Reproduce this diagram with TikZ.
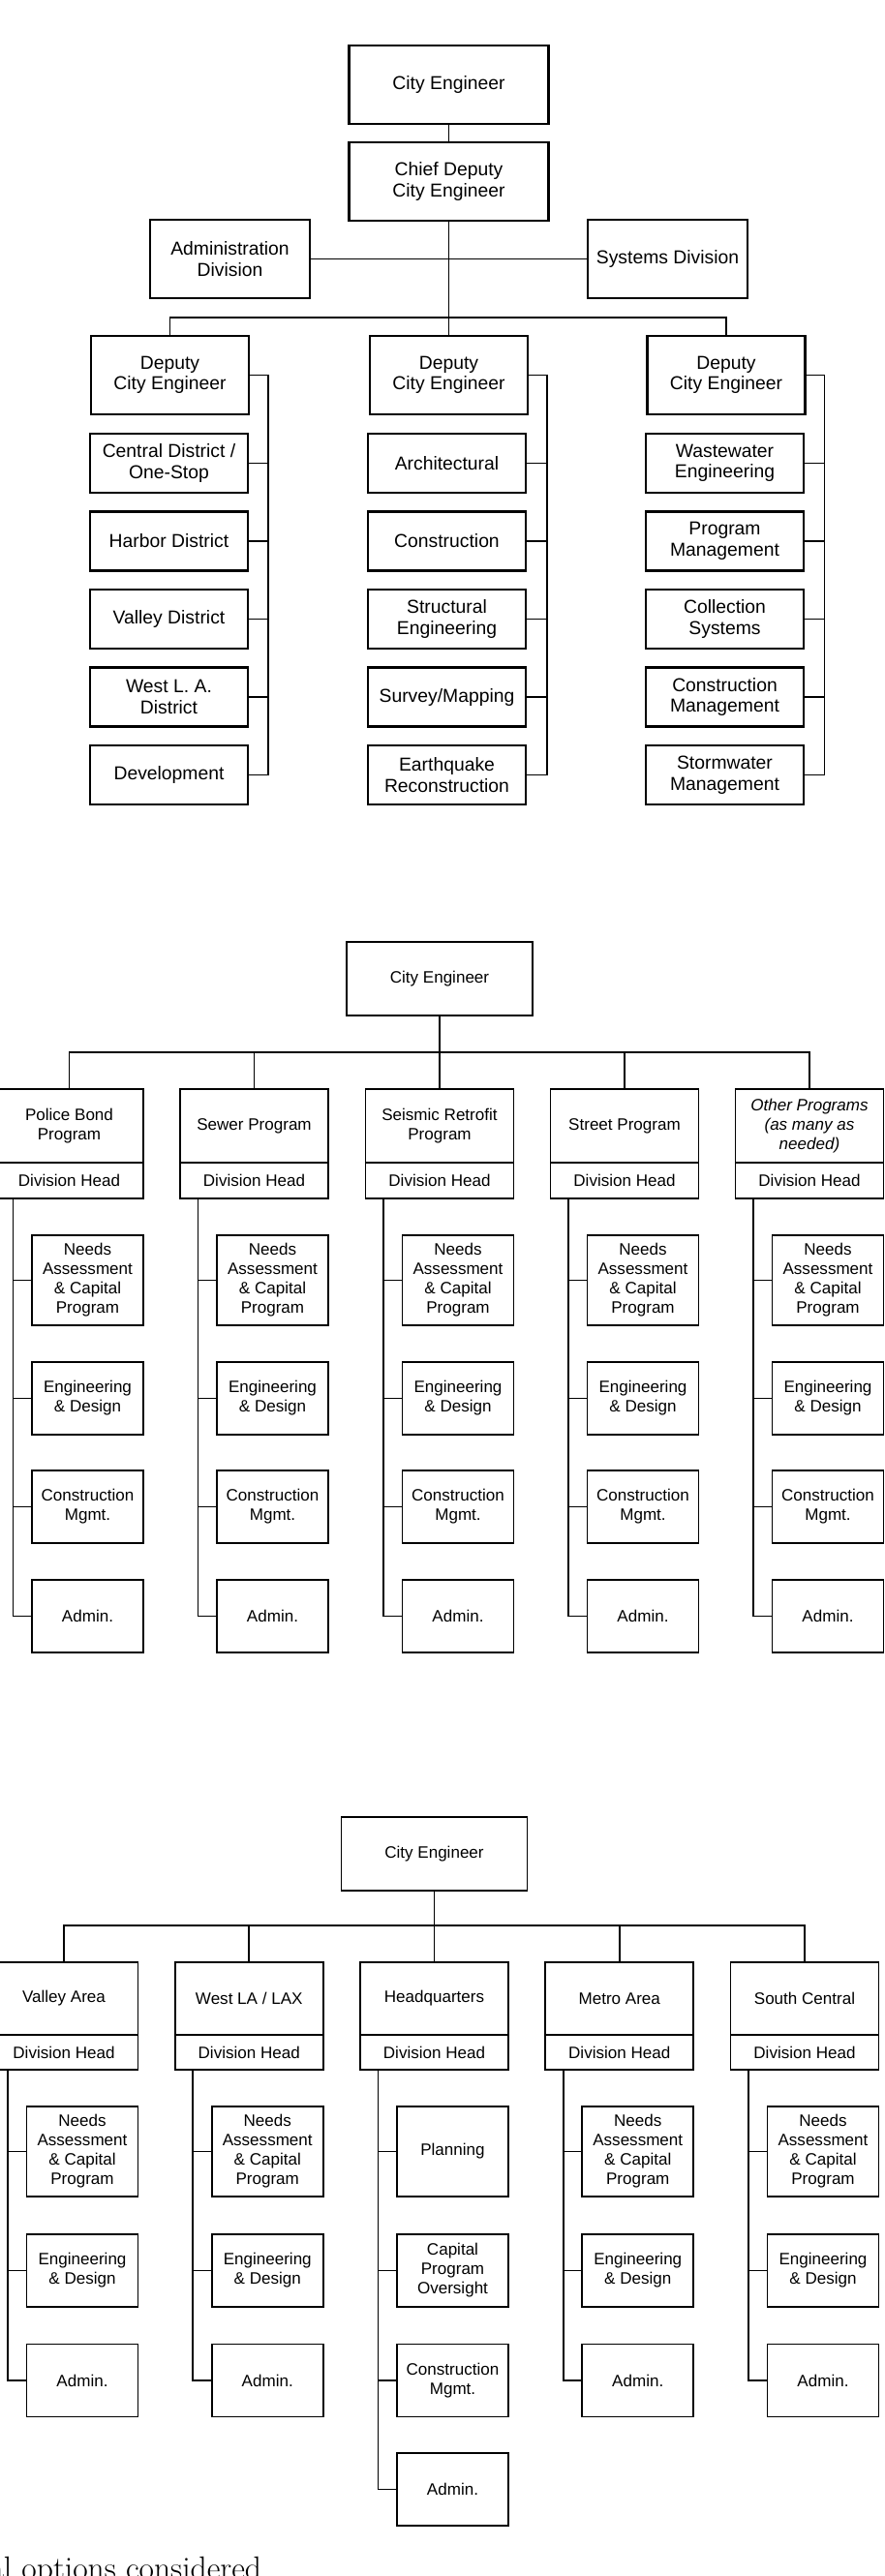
\documentclass[tikz,border=0pt]{standalone}
\usepackage{fontspec}
\setsansfont{Liberation Sans}
\usepackage{tikz}
\usetikzlibrary{positioning}

\begin{document}
\begin{tikzpicture}[
        chief/.style={
          draw,
          line width=1.2pt,
          outer sep=0pt,
          align=center,
          minimum width=4.12cm,
          minimum height=1.62cm,
          font=\sffamily\fontsize{11}{12.3}\selectfont
        },
        office/.style={chief, minimum width=3.3cm},
        deputy/.style={chief, minimum width=3.26cm},
        unit/.style={chief, minimum width=3.26cm, minimum height=1.22cm},
        boss/.style={
          draw,
          line width=1pt,
          outer sep=0pt,
          inner sep=1pt,
          align=center,
          minimum width=3.84cm,
          minimum height=1.52cm,
          font=\sffamily\fontsize{9.7}{11.4}\selectfont
        },
        program/.style={boss, minimum width=3.06cm},
        divhead/.style={boss, minimum width=3.06cm, minimum height=0.74cm},
        task/.style={boss, minimum width=2.3cm, minimum height=1.5cm},
        needs/.style={task, minimum height=1.86cm},
        link/.style={line width=1pt}
      ]
        \useasboundingbox (0,0) rectangle (18.26,-53.22);

        % first option
        \node[chief] (ce1) at (9.27,-1.75) {City Engineer};
        \node[chief] (cd) at (9.27,-3.75) {Chief Deputy\\City Engineer};
        \node[office] (adm) at (4.75,-5.35) {Administration\\Division};
        \node[office] (sys) at (13.79,-5.35) {Systems Division};
        \node[deputy] (dep1) at (3.51,-7.75) {Deputy\\City Engineer};
        \node[deputy] (dep2) at (9.27,-7.75) {Deputy\\City Engineer};
        \node[deputy] (dep3) at (15.0,-7.75) {Deputy\\City Engineer};

        \node[unit] (cen) at (3.49,-9.57) {Central District /\\One-Stop};
        \node[unit] (har) at (3.49,-11.18) {Harbor District};
        \node[unit] (val) at (3.49,-12.79) {Valley District};
        \node[unit] (wla) at (3.49,-14.40) {West L. A.\\District};
        \node[unit] (dev) at (3.49,-16.01) {Development};

        \node[unit] (arc) at (9.23,-9.57) {Architectural};
        \node[unit] (con) at (9.23,-11.18) {Construction};
        \node[unit] (str) at (9.23,-12.79) {Structural\\Engineering};
        \node[unit] (sur) at (9.23,-14.40) {Survey/Mapping};
        \node[unit] (eqr) at (9.23,-16.01) {Earthquake\\Reconstruction};

        \node[unit] (wwe) at (14.97,-9.57) {Wastewater\\Engineering};
        \node[unit] (pgm) at (14.97,-11.18) {Program\\Management};
        \node[unit] (col) at (14.97,-12.79) {Collection\\Systems};
        \node[unit] (cmg) at (14.97,-14.40) {Construction\\Management};
        \node[unit] (swm) at (14.97,-16.01) {Stormwater\\Management};

        \draw[link] (ce1.south) -- (cd.north);
        \draw[link] (adm.east) -- (sys.west);
        \draw[link] (cd.south) -- (dep2.north);
        \draw[link] (cd.south) -- ++(0,-2.0) -| (dep1.north);
        \draw[link] (cd.south) -- ++(0,-2.0) -| (dep3.north);

        \coordinate (b1) at ([xshift=4mm]dep1.east);
        \coordinate (b2) at ([xshift=4mm]dep2.east);
        \coordinate (b3) at ([xshift=4mm]dep3.east);
        \draw[link] (dep1.east) -- (b1) |- (dev.east) (b1) |- (wla.east) (b1) |- (val.east) (b1) |- (har.east) (b1) |- (cen.east);
        \draw[link] (dep2.east) -- (b2) |- (eqr.east) (b2) |- (sur.east) (b2) |- (str.east) (b2) |- (con.east) (b2) |- (arc.east);
        \draw[link] (dep3.east) -- (b3) |- (swm.east) (b3) |- (cmg.east) (b3) |- (col.east) (b3) |- (pgm.east) (b3) |- (wwe.east);

        % second option
        \node[boss] (ce2) at (9.08,-20.22) {City Engineer};
        \node[program] (p1) at (1.43,-23.26) {Police Bond\\Program};
        \node[program] (p2) at (5.25,-23.26) {Sewer Program};
        \node[program] (p3) at (9.08,-23.26) {Seismic Retrofit\\Program};
        \node[program] (p4) at (12.90,-23.26) {Street Program};
        \node[program, font=\sffamily\itshape\fontsize{9.7}{11.4}\selectfont] (p5) at (16.72,-23.26) {Other Programs\\(as many as\\needed)};
        \node[divhead, below=0pt of p1] (h1) {Division Head};
        \node[divhead, below=0pt of p2] (h2) {Division Head};
        \node[divhead, below=0pt of p3] (h3) {Division Head};
        \node[divhead, below=0pt of p4] (h4) {Division Head};
        \node[divhead, below=0pt of p5] (h5) {Division Head};

        \node[needs] (na1) at (1.81,-26.45) {Needs\\Assessment\\\& Capital\\Program};
        \node[needs] (na2) at (5.63,-26.45) {Needs\\Assessment\\\& Capital\\Program};
        \node[needs] (na3) at (9.46,-26.45) {Needs\\Assessment\\\& Capital\\Program};
        \node[needs] (na4) at (13.28,-26.45) {Needs\\Assessment\\\& Capital\\Program};
        \node[needs] (na5) at (17.10,-26.45) {Needs\\Assessment\\\& Capital\\Program};
        \node[task] (ed1) at (1.81,-28.89) {Engineering\\\& Design};
        \node[task] (ed2) at (5.63,-28.89) {Engineering\\\& Design};
        \node[task] (ed3) at (9.46,-28.89) {Engineering\\\& Design};
        \node[task] (ed4) at (13.28,-28.89) {Engineering\\\& Design};
        \node[task] (ed5) at (17.10,-28.89) {Engineering\\\& Design};
        \node[task] (cm1) at (1.81,-31.13) {Construction\\Mgmt.};
        \node[task] (cm2) at (5.63,-31.13) {Construction\\Mgmt.};
        \node[task] (cm3) at (9.46,-31.13) {Construction\\Mgmt.};
        \node[task] (cm4) at (13.28,-31.13) {Construction\\Mgmt.};
        \node[task] (cm5) at (17.10,-31.13) {Construction\\Mgmt.};
        \node[task] (ad1) at (1.81,-33.39) {Admin.};
        \node[task] (ad2) at (5.63,-33.39) {Admin.};
        \node[task] (ad3) at (9.46,-33.39) {Admin.};
        \node[task] (ad4) at (13.28,-33.39) {Admin.};
        \node[task] (ad5) at (17.10,-33.39) {Admin.};

        \draw[link] (ce2.south) -- (p3.north);
        \draw[link] (ce2.south) -- ++(0,-0.76) -| (p1.north);
        \draw[link] (ce2.south) -- ++(0,-0.76) -| (p2.north);
        \draw[link] (ce2.south) -- ++(0,-0.76) -| (p4.north);
        \draw[link] (ce2.south) -- ++(0,-0.76) -| (p5.north);

        \coordinate (v1) at ([xshift=3.7mm]h1.south west);
        \coordinate (v2) at ([xshift=3.7mm]h2.south west);
        \coordinate (v3) at ([xshift=3.7mm]h3.south west);
        \coordinate (v4) at ([xshift=3.7mm]h4.south west);
        \coordinate (v5) at ([xshift=3.7mm]h5.south west);
        \draw[link] (v1) |- (ad1.west) (v1) |- (cm1.west) (v1) |- (ed1.west) (v1) |- (na1.west);
        \draw[link] (v2) |- (ad2.west) (v2) |- (cm2.west) (v2) |- (ed2.west) (v2) |- (na2.west);
        \draw[link] (v3) |- (ad3.west) (v3) |- (cm3.west) (v3) |- (ed3.west) (v3) |- (na3.west);
        \draw[link] (v4) |- (ad4.west) (v4) |- (cm4.west) (v4) |- (ed4.west) (v4) |- (na4.west);
        \draw[link] (v5) |- (ad5.west) (v5) |- (cm5.west) (v5) |- (ed5.west) (v5) |- (na5.west);

        % third option
        \node[boss] (ce3) at (8.97,-38.3) {City Engineer};
        \node[program, minimum height=1.5cm] (r1) at (1.32,-41.29) {Valley Area};
        \node[program, minimum height=1.5cm] (r2) at (5.145,-41.29) {West LA / LAX};
        \node[program, minimum height=1.5cm] (r3) at (8.97,-41.29) {Headquarters};
        \node[program, minimum height=1.5cm] (r4) at (12.795,-41.29) {Metro Area};
        \node[program, minimum height=1.5cm] (r5) at (16.62,-41.29) {South Central};
        \node[divhead, minimum height=0.72cm, below=0pt of r1] (dh1) {Division Head};
        \node[divhead, minimum height=0.72cm, below=0pt of r2] (dh2) {Division Head};
        \node[divhead, minimum height=0.72cm, below=0pt of r3] (dh3) {Division Head};
        \node[divhead, minimum height=0.72cm, below=0pt of r4] (dh4) {Division Head};
        \node[divhead, minimum height=0.72cm, below=0pt of r5] (dh5) {Division Head};

        \node[needs] (nb1) at (1.70,-44.45) {Needs\\Assessment\\\& Capital\\Program};
        \node[needs] (nb2) at (5.525,-44.45) {Needs\\Assessment\\\& Capital\\Program};
        \node[needs] (plan) at (9.35,-44.45) {Planning};
        \node[needs] (nb4) at (13.175,-44.45) {Needs\\Assessment\\\& Capital\\Program};
        \node[needs] (nb5) at (17.00,-44.45) {Needs\\Assessment\\\& Capital\\Program};
        \node[task] (eb1) at (1.70,-46.91) {Engineering\\\& Design};
        \node[task] (eb2) at (5.525,-46.91) {Engineering\\\& Design};
        \node[task] (cpo) at (9.35,-46.91) {Capital\\Program\\Oversight};
        \node[task] (eb4) at (13.175,-46.91) {Engineering\\\& Design};
        \node[task] (eb5) at (17.00,-46.91) {Engineering\\\& Design};
        \node[task] (xb1) at (1.70,-49.18) {Admin.};
        \node[task] (xb2) at (5.525,-49.18) {Admin.};
        \node[task] (hcm) at (9.35,-49.18) {Construction\\Mgmt.};
        \node[task] (xb4) at (13.175,-49.18) {Admin.};
        \node[task] (xb5) at (17.00,-49.18) {Admin.};
        \node[task] (hadm) at (9.35,-51.43) {Admin.};

        \draw[link] (ce3.south) -- (r3.north);
        \draw[link] (ce3.south) -- ++(0,-0.72) -| (r1.north);
        \draw[link] (ce3.south) -- ++(0,-0.72) -| (r2.north);
        \draw[link] (ce3.south) -- ++(0,-0.72) -| (r4.north);
        \draw[link] (ce3.south) -- ++(0,-0.72) -| (r5.north);

        \coordinate (w1) at ([xshift=3.7mm]dh1.south west);
        \coordinate (w2) at ([xshift=3.7mm]dh2.south west);
        \coordinate (w3) at ([xshift=3.7mm]dh3.south west);
        \coordinate (w4) at ([xshift=3.7mm]dh4.south west);
        \coordinate (w5) at ([xshift=3.7mm]dh5.south west);
        \draw[link] (w1) |- (xb1.west) (w1) |- (eb1.west) (w1) |- (nb1.west);
        \draw[link] (w2) |- (xb2.west) (w2) |- (eb2.west) (w2) |- (nb2.west);
        \draw[link] (w3) |- (hadm.west) (w3) |- (hcm.west) (w3) |- (cpo.west) (w3) |- (plan.west);
        \draw[link] (w4) |- (xb4.west) (w4) |- (eb4.west) (w4) |- (nb4.west);
        \draw[link] (w5) |- (xb5.west) (w5) |- (eb5.west) (w5) |- (nb5.west);

        \node[anchor=base west, inner sep=0pt, font=\fontsize{19.1}{21}\selectfont] (caption) at (-0.236,-53.29) {al options considered};
      \end{tikzpicture}
\end{document}
